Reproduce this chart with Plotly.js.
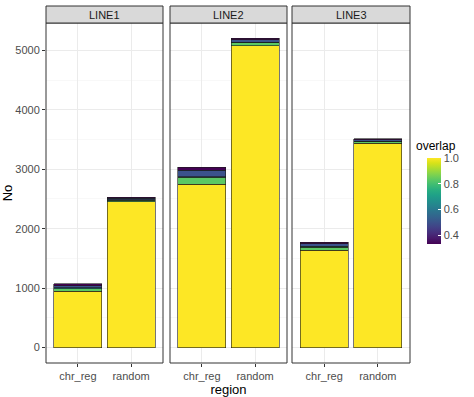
<!DOCTYPE html>
<html>
<head>
<meta charset="utf-8">
<script src="https://cdn.plot.ly/plotly-3.0.1.min.js"></script>
<style>html,body{margin:0;padding:0;background:#fff;}#chart{width:474px;height:397px;}</style>
</head>
<body>
<div id="chart"></div>
<script>
// ---- data ----
const panels = ["LINE1", "LINE2", "LINE3"];
const regions = ["chr_reg", "random"];
// stacking order bottom -> top
const overlapLevels = [1.0, 0.833, 0.667, 0.5, 0.333];
const line1_chr_reg = [950, 40, 15, 35, 30];
const line1_random  = [2450, 25, 10, 30, 15];
const line2_chr_reg = [2750, 115, 10, 105, 55];
const line2_random  = [5075, 50, 10, 45, 20];
const line3_chr_reg = [1640, 50, 15, 45, 25];
const line3_random  = [3440, 25, 5, 25, 15];
const yTicks = [0, 1000, 2000, 3000, 4000, 5000];
const cbTicks = [0.4, 0.6, 0.8, 1.0];

const panelData = [
  [line1_chr_reg, line1_random],
  [line2_chr_reg, line2_random],
  [line3_chr_reg, line3_random]
];

const W = 474, H = 397;
const font = "Liberation Sans, Arial, sans-serif";
const xDomains = [[46/W, 163/W], [170/W, 287/W], [292/W, 410/W]];
const yDomain = [(H-363)/H, (H-23)/H];
const stripTop = (H-6)/H;

const traces = [];
panels.forEach((p, pi) => {
  const xa = pi === 0 ? 'x' : 'x' + (pi + 1);
  const ya = pi === 0 ? 'y' : 'y' + (pi + 1);
  overlapLevels.forEach((lev, li) => {
    traces.push({
      type: 'bar',
      x: regions,
      y: regions.map((r, ri) => panelData[pi][ri][li]),
      xaxis: xa, yaxis: ya,
      name: String(lev),
      showlegend: false,
      marker: {
        color: regions.map(() => lev),
        colorscale: 'Viridis',
        cmin: 1/3, cmax: 1,
        line: {color: '#1a1a1a', width: 0.6},
        showscale: (pi === 0 && li === 0),
        colorbar: {
          x: 427/W, xanchor: 'left',
          y: (H-201)/H, yanchor: 'middle',
          thickness: 14, thicknessmode: 'pixels',
          len: 86, lenmode: 'pixels',
          outlinewidth: 0,
          tickvals: cbTicks,
          ticktext: cbTicks.map(v => v.toFixed(1)),
          ticks: 'inside', ticklen: 3, tickcolor: '#fff', tickwidth: 1,
          tickfont: {family: font, size: 11, color: '#4d4d4d'},
          ticklabelposition: 'outside',
          xpad: 0, ypad: 0
        }
      },
      hoverinfo: 'x+y+name'
    });
  });
});

const layout = {
  width: W, height: H,
  margin: {l: 0, r: 0, t: 0, b: 0},
  paper_bgcolor: '#fff', plot_bgcolor: '#fff',
  barmode: 'stack', bargap: 0.1,
  font: {family: font, size: 11, color: '#4d4d4d'},
  shapes: [],
  annotations: [{
    xref: 'paper', yref: 'paper', x: 414/W, y: (H-146)/H,
    xanchor: 'left', yanchor: 'middle', showarrow: false,
    text: 'overlap', font: {family: font, size: 12, color: '#000'}
  }]
};

panels.forEach((p, pi) => {
  const sfx = pi === 0 ? '' : String(pi + 1);
  layout['xaxis' + sfx] = {
    domain: xDomains[pi], anchor: 'y' + sfx,
    type: 'category', range: [-0.6, 1.6], fixedrange: true,
    showgrid: true, gridcolor: '#ebebeb', gridwidth: 1,
    ticks: 'outside', ticklen: 3, tickcolor: '#333', tickwidth: 1,
    tickfont: {family: font, size: 11, color: '#4d4d4d'},
    showline: false, zeroline: false, automargin: false,
    title: pi === 1 ? {text: 'region', font: {family: font, size: 13, color: '#000'}, standoff: 1} : {text: ''}
  };
  layout['yaxis' + sfx] = {
    domain: yDomain, anchor: 'x' + sfx,
    range: [-260, 5460], fixedrange: true,
    tickvals: yTicks, ticktext: yTicks.map(String),
    showticklabels: pi === 0,
    ticks: pi === 0 ? 'outside' : '', ticklen: 3, tickcolor: '#333', tickwidth: 1,
    tickfont: {family: font, size: 11, color: '#4d4d4d'},
    showgrid: true, gridcolor: '#ebebeb', gridwidth: 1,
    minor: {tickvals: [500, 1500, 2500, 3500, 4500], showgrid: true, gridcolor: '#f4f4f4', gridwidth: 0.6, ticks: ''},
    zeroline: false, showline: false, automargin: false,
    title: pi === 0 ? {text: 'No', font: {family: font, size: 13, color: '#000'}, standoff: 3} : {text: ''}
  };
  if (pi > 0) layout['yaxis' + sfx].matches = 'y';
  // panel border
  layout.shapes.push({
    type: 'rect', xref: 'paper', yref: 'paper',
    x0: xDomains[pi][0], x1: xDomains[pi][1], y0: yDomain[0], y1: yDomain[1],
    line: {color: '#333', width: 1}, fillcolor: 'rgba(0,0,0,0)', layer: 'above'
  });
  // strip
  layout.shapes.push({
    type: 'rect', xref: 'paper', yref: 'paper',
    x0: xDomains[pi][0], x1: xDomains[pi][1], y0: yDomain[1], y1: stripTop,
    line: {color: '#333', width: 1}, fillcolor: '#d9d9d9', layer: 'above'
  });
  layout.annotations.push({
    xref: 'paper', yref: 'paper',
    x: (xDomains[pi][0] + xDomains[pi][1]) / 2, y: (yDomain[1] + stripTop) / 2,
    xanchor: 'center', yanchor: 'middle', showarrow: false,
    text: p, font: {family: font, size: 11, color: '#1a1a1a'}
  });
});

Plotly.newPlot('chart', traces, layout, {displayModeBar: false, staticPlot: true});
</script>
</body>
</html>
